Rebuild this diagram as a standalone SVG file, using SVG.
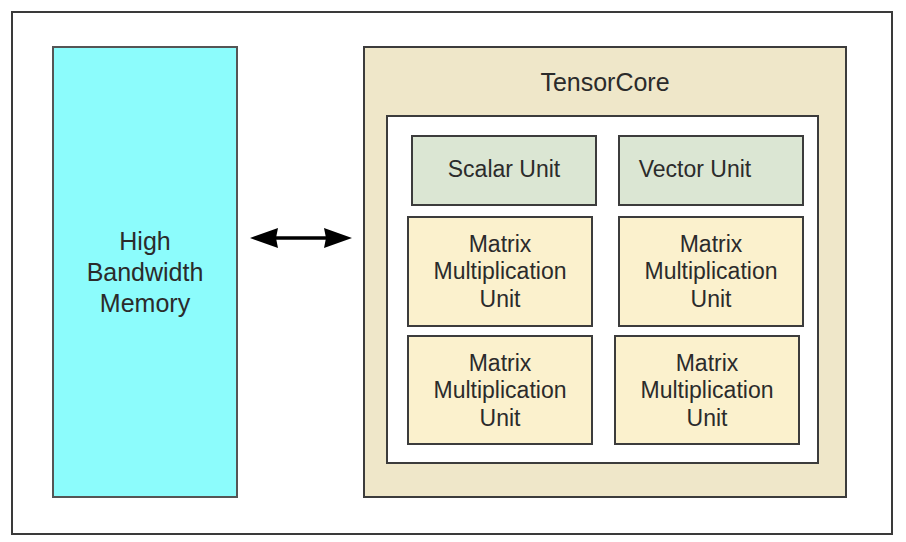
<svg xmlns="http://www.w3.org/2000/svg" width="906" height="542" viewBox="0 0 906 542">
<style>
  text { font-family: "Liberation Sans", Arial, sans-serif; fill: #2b2b2b; text-anchor: middle; }
  .box { stroke: #3c3c3c; stroke-width: 2; }
  .hbm { fill: #8cfcfc; stroke: #555; stroke-width: 2; }
  .tc { fill: #efe7c9; }
  .inner { fill: #ffffff; }
  .green { fill: #dbe6d3; }
  .yellow { fill: #fbf1cd; }
  .t25 { font-size: 25px; }
  .t23 { font-size: 23px; }
</style>
<rect x="0" y="0" width="906" height="542" fill="#ffffff"/>
<rect id="frame" x="12" y="12" width="880" height="522" fill="#ffffff" stroke="#3a3a3a" stroke-width="2"/>
<g id="hbm">
  <rect class="hbm" x="53" y="47" width="184" height="450"/>
  <text class="t25" x="145" y="250">High</text>
  <text class="t25" x="145" y="281">Bandwidth</text>
  <text class="t25" x="145" y="312">Memory</text>
</g>
<g id="tensorcore">
  <rect class="box tc" x="364" y="47" width="482" height="450"/>
  <text class="t25" x="605" y="91">TensorCore</text>
  <rect class="box inner" x="387" y="116" width="431" height="347"/>
</g>
<g id="scalar">
  <rect class="box green" x="412" y="136" width="184" height="69"/>
  <text class="t23" x="504" y="177">Scalar Unit</text>
</g>
<g id="vector">
  <rect class="box green" x="619" y="136" width="184" height="69"/>
  <text class="t23" x="695" y="177">Vector Unit</text>
</g>
<g id="mmu1">
  <rect class="box yellow" x="408" y="217" width="184" height="109"/>
  <text class="t23" x="500" y="252">Matrix</text>
  <text class="t23" x="500" y="279">Multiplication</text>
  <text class="t23" x="500" y="307">Unit</text>
</g>
<g id="mmu2">
  <rect class="box yellow" x="619" y="217" width="184" height="109"/>
  <text class="t23" x="711" y="252">Matrix</text>
  <text class="t23" x="711" y="279">Multiplication</text>
  <text class="t23" x="711" y="307">Unit</text>
</g>
<g id="mmu3">
  <rect class="box yellow" x="408" y="336" width="184" height="108"/>
  <text class="t23" x="500" y="371">Matrix</text>
  <text class="t23" x="500" y="398">Multiplication</text>
  <text class="t23" x="500" y="426">Unit</text>
</g>
<g id="mmu4">
  <rect class="box yellow" x="615" y="336" width="184" height="108"/>
  <text class="t23" x="707" y="371">Matrix</text>
  <text class="t23" x="707" y="398">Multiplication</text>
  <text class="t23" x="707" y="426">Unit</text>
</g>
<g id="connectors">
  <line x1="270" y1="238" x2="332" y2="238" stroke="#000" stroke-width="3.5"/>
  <polygon points="250,238 278,228 276,238 278,248" fill="#000"/>
  <polygon points="352,238 324,228 326,238 324,248" fill="#000"/>
</g>
</svg>
